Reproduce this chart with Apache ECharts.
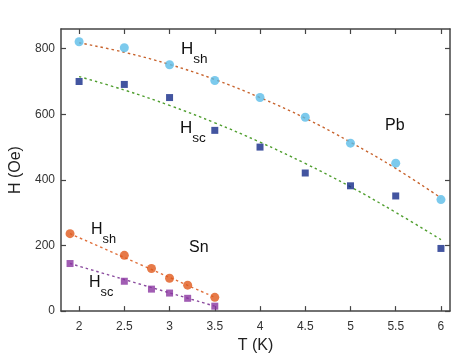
<!DOCTYPE html>
<html><head><meta charset="utf-8">
<script src="https://cdn.jsdelivr.net/npm/echarts@6/dist/echarts.min.js"></script>
<style>html,body{margin:0;padding:0;background:#fff}#c{width:474px;height:359px}</style>
</head><body><div id="c"></div>
<script>
// Data
var pbT = [2, 2.5, 3, 3.5, 4, 4.5, 5, 5.5, 6];
var pbHsh = [821, 803, 751, 703, 651, 591, 512, 451, 340];
var pbHsc = [700, 691, 651, 551, 500, 421, 382, 351, 191];
var pbHshFit = [818, 789, 752, 706, 651, 588, 515, 435, 345];
var pbHscFit = [715, 674, 627, 574, 515, 450, 379, 301, 218];
var snT = [1.9, 2.5, 2.8, 3.0, 3.2, 3.5];
var snHsh = [236, 170, 130, 100, 79, 42];
var snHsc = [145, 91, 67, 55, 39, 15];
var snFitT = [1.9, 3.5];
var snHshFit = [236, 42];
var snHscFit = [145, 15];
var xTicks = [2, 2.5, 3, 3.5, 4, 4.5, 5, 5.5, 6];
var yTicks = [0, 200, 400, 600, 800];

function pairs(xs, ys){ return xs.map(function(x,i){return [x, ys[i]];}); }

var font = 'Liberation Sans, Arial, sans-serif';
var axisCol = '#444';
var chart = echarts.init(document.getElementById('c'));
function xAx(pos, show){
  return {type:'value', position:pos, min:1.8, max:6.1,
    axisLine:{show:true, onZero:false, lineStyle:{color:axisCol, width:1.5}},
    axisTick:{show:true, inside:true, length:5, customValues:xTicks, lineStyle:{color:axisCol, width:1.2}},
    axisLabel:{show:show, customValues:xTicks, color:'#333', fontSize:12, fontFamily:font, margin:10},
    splitLine:{show:false},
    name: show ? 'T (K)' : '', nameLocation:'middle', nameGap:26,
    nameTextStyle:{fontSize:16, color:'#222', fontFamily:font}};
}
function yAx(pos, show){
  return {type:'value', position:pos, min:0, max:860,
    axisLine:{show:true, onZero:false, lineStyle:{color:axisCol, width:1.5}},
    axisTick:{show:true, inside:true, length:5, customValues:yTicks, lineStyle:{color:axisCol, width:1.2}},
    axisLabel:{show:show, customValues:yTicks, color:'#333', fontSize:12, fontFamily:font, margin:6},
    splitLine:{show:false},
    name: show ? 'H (Oe)' : '', nameLocation:'middle', nameGap:37, nameRotate:90,
    nameTextStyle:{fontSize:16, color:'#222', fontFamily:font}};
}
var dashed = [2.5,3];
function fit(data, color){
  return {type:'line', data:data, showSymbol:false, symbol:'none', smooth:0.4,
    lineStyle:{color:color, width:1.4, type:dashed}, silent:true, z:1};
}
function pts(data, sym, size, color){
  return {type:'scatter', data:data, symbol:sym, symbolSize:size,
    itemStyle:{color:color}, z:3};
}
function lbl(x, y, main, sub, size){
  return {type:'text', left:x, top:y, style:{
    text:'{a|'+main+'}{b|'+sub+'}', rich:{
      a:{fontSize:size, fontFamily:font, fill:'#111', verticalAlign:'bottom'},
      b:{fontSize:size*0.8, fontFamily:font, fill:'#111', padding:[0,0,-8,0], verticalAlign:'bottom'}
    }}};
}
chart.setOption({
  animation:false,
  grid:{left:58, right:24, top:29, bottom:47},
  xAxis:[xAx('bottom', true), xAx('top', false)],
  yAxis:[yAx('left', true), yAx('right', false)],
  series:[
    fit(pairs(pbT, pbHshFit), '#c8642e'),
    fit(pairs(pbT, pbHscFit), '#4f9e2e'),
    fit(pairs(snFitT, snHshFit), '#e0703c'),
    fit(pairs(snFitT, snHscFit), '#8a4a9e'),
    pts(pairs(pbT, pbHsh), 'circle', 9, '#5bbde8'),
    pts(pairs(pbT, pbHsc), 'rect', 7, '#142a88'),
    pts(pairs(snT, snHsh), 'circle', 9, '#e0591c'),
    pts(pairs(snT, snHsc), 'rect', 7, '#8a34a0')
  ],
  graphic:[
    lbl(181, 41, 'H', 'sh', 17),
    lbl(180, 120, 'H', 'sc', 17),
    {type:'text', left:385, top:118, style:{text:'Pb', fontSize:16, fontFamily:font, fill:'#111'}},
    lbl(91, 222, 'H', 'sh', 16),
    {type:'text', left:189, top:240, style:{text:'Sn', fontSize:16, fontFamily:font, fill:'#111'}},
    lbl(89, 275, 'H', 'sc', 16)
  ]
});
</script></body></html>
